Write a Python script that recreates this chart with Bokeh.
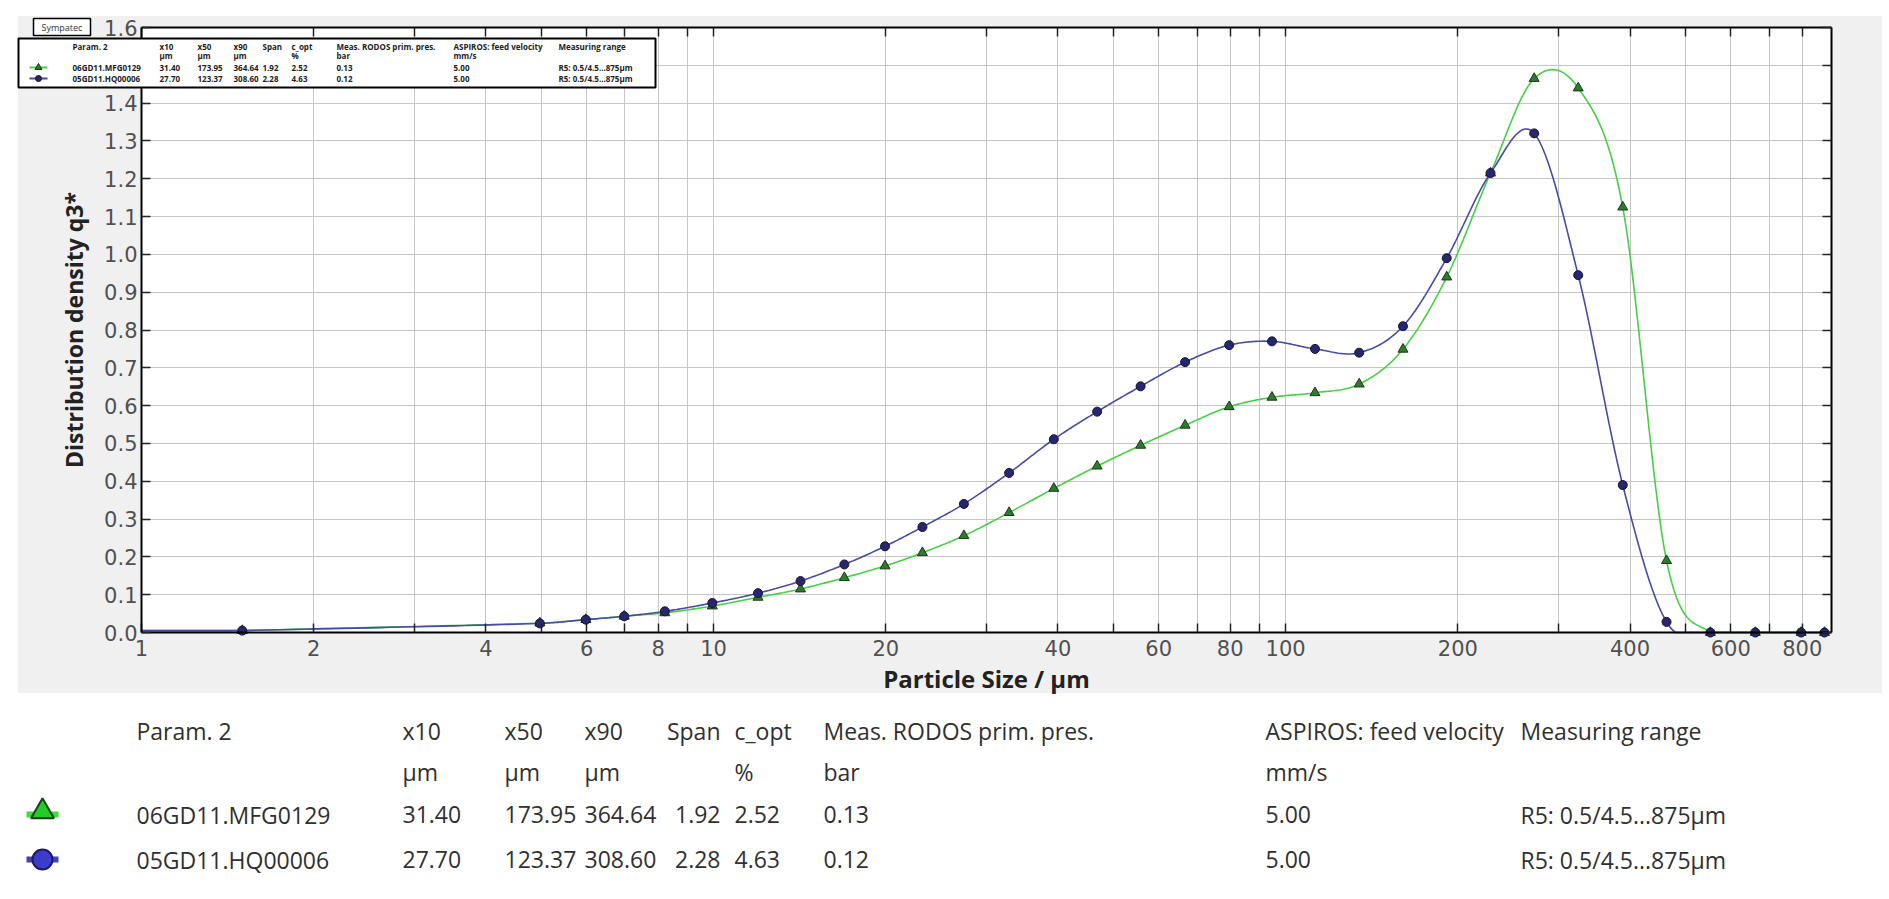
import numpy as np
from bokeh.plotting import figure
from bokeh.models import (Range1d, FixedTicker, LogAxis, LinearAxis, Grid, LinearScale,
                          ColumnDataSource, PrintfTickFormatter)
from bokeh.embed import file_html
from bokeh.resources import INLINE
from bokeh.core.properties import value

# ---------------- data ----------------
particle_size_um = [1.5, 4.97, 5.98, 6.98, 8.22, 9.95, 11.96, 14.19, 16.93, 19.94, 23.18, 27.39,
                    32.86, 39.34, 46.83, 55.78, 66.73, 79.69, 94.66, 112.56, 134.46, 160.39,
                    191.25, 228.12, 271.94, 324.71, 388.43, 463.28, 552.74, 662.29, 796.48, 875.0]
q3_mfg0129 = [0.005, 0.025, 0.034, 0.043, 0.052, 0.070, 0.093, 0.115, 0.145, 0.176, 0.211, 0.256,
              0.317, 0.381, 0.440, 0.495, 0.548, 0.597, 0.622, 0.634, 0.657, 0.749,
              0.940, 1.215, 1.465, 1.440, 1.125, 0.190, 0.0, 0.0, 0.0, 0.0]
q3_hq00006 = [0.005, 0.024, 0.034, 0.043, 0.056, 0.078, 0.104, 0.136, 0.180, 0.228, 0.279, 0.340,
              0.422, 0.511, 0.584, 0.651, 0.715, 0.760, 0.770, 0.750, 0.740, 0.810,
              0.990, 1.215, 1.320, 0.945, 0.390, 0.028, 0.0, 0.0, 0.0, 0.0]

sample_names = ["06GD11.MFG0129", "05GD11.HQ00006"]
x10_um = [31.40, 27.70]
x50_um = [173.95, 123.37]
x90_um = [364.64, 308.60]
span_vals = [1.92, 2.28]
c_opt_pct = [2.52, 4.63]
rodos_bar = [0.13, 0.12]
aspiros_mms = [5.00, 5.00]
measuring_range = ["R5: 0.5/4.5...875µm", "R5: 0.5/4.5...875µm"]
table_headers = ["Param. 2", "x10", "x50", "x90", "Span", "c_opt",
                 "Meas. RODOS prim. pres.", "ASPIROS: feed velocity", "Measuring range"]
table_units = ["", "µm", "µm", "µm", "", "%", "bar", "mm/s", ""]

x_tick_values = [1, 2, 3, 4, 5, 6, 7, 8, 9, 10, 20, 30, 40, 50, 60, 70, 80, 90,
                 100, 200, 300, 400, 500, 600, 700, 800]
x_tick_labels = ["1", "2", "", "4", "", "6", "", "8", "", "10", "20", "", "40", "", "60", "", "80", "",
                 "100", "200", "", "400", "", "600", "", "800"]
y_tick_values = [0.0, 0.1, 0.2, 0.3, 0.4, 0.5, 0.6, 0.7, 0.8, 0.9, 1.0, 1.1, 1.2, 1.3, 1.4, 1.5, 1.6]

X_MIN, X_MAX = 1, 900
Y_MIN, Y_MAX = 0.0, 1.6

# ---------------- layout (page pixels) ----------------
FIG_L, FIG_T, FIG_W, FIG_H = 0, 0, 1888, 898
FIG_R, FIG_B = FIG_L + FIG_W, FIG_T + FIG_H
PLOT_L, PLOT_R, PLOT_T, PLOT_B = 141, 1831, 27, 632          # plotting area
PANEL_L, PANEL_R, PANEL_T, PANEL_B = 17, 1882, 15, 693      # grey chart panel

# ---------------- styles ----------------
GREEN_LINE, GREEN_MARK, GREEN_EDGE = "#46cf46", "#2f7a2f", "#163816"
BLUE_LINE, BLUE_MARK, BLUE_EDGE = "#4a4aa6", "#27276b", "#12123a"
BG_GRAY = "#f0f0f0"
TICK_FONT = "DejaVu Sans"
TEXT_FONT = "Open Sans"


def smooth_curve(xs, ys, n=24):
    """Cubic Hermite curve through the measured points (in log-x space), for the connecting line."""
    u = np.log10(np.asarray(xs, float))
    y = np.asarray(ys, float)
    m = np.empty_like(y)
    m[1:-1] = (y[2:] - y[:-2]) / (u[2:] - u[:-2])
    m[0] = (y[1] - y[0]) / (u[1] - u[0])
    m[-1] = (y[-1] - y[-2]) / (u[-1] - u[-2])
    U, Y = [[np.log10(X_MIN)]], [[y[0]]]
    t = np.linspace(0, 1, n, endpoint=False)
    h00 = 2 * t**3 - 3 * t**2 + 1
    h10 = t**3 - 2 * t**2 + t
    h01 = -2 * t**3 + 3 * t**2
    h11 = t**3 - t**2
    for i in range(len(u) - 1):
        h = u[i + 1] - u[i]
        U.append(u[i] + t * h)
        Y.append(h00 * y[i] + h10 * h * m[i] + h01 * y[i + 1] + h11 * h * m[i + 1])
    U.append([u[-1]])
    Y.append([y[-1]])
    return 10 ** np.concatenate(U), np.clip(np.concatenate(Y), 0, None)


def table_cells(i):
    return [sample_names[i], f"{x10_um[i]:.2f}", f"{x50_um[i]:.2f}", f"{x90_um[i]:.2f}",
            f"{span_vals[i]:.2f}", f"{c_opt_pct[i]:.2f}", f"{rodos_bar[i]:.2f}",
            f"{aspiros_mms[i]:.2f}", measuring_range[i]]


rows = [table_headers, table_units, table_cells(0), table_cells(1)]

# ranges: the frame is the whole figure; the data area is placed at PLOT_* by extending the ranges
kx = (PLOT_R - PLOT_L) / (np.log10(X_MAX) - np.log10(X_MIN))
ky = (PLOT_B - PLOT_T) / (Y_MAX - Y_MIN)
x_range = Range1d(10 ** (np.log10(X_MIN) - (PLOT_L - FIG_L) / kx),
                  10 ** (np.log10(X_MAX) + (FIG_R - PLOT_R) / kx))
y_range = Range1d(Y_MIN - (FIG_B - PLOT_B) / ky, Y_MAX + (PLOT_T - FIG_T) / ky)

p = figure(width=FIG_W, height=FIG_H, x_axis_type="log", x_range=x_range, y_range=y_range,
           x_axis_location=None, y_axis_location=None,
           output_backend="svg", toolbar_location=None, min_border=0,
           background_fill_color="white", border_fill_color="white", outline_line_color=None)
p.grid.visible = False
p.extra_x_ranges = {"px": Range1d(FIG_L, FIG_R)}
p.extra_y_ranges = {"py": Range1d(FIG_B, FIG_T)}
p.extra_x_scales = {"px": LinearScale()}
p.extra_y_scales = {"py": LinearScale()}
PG = dict(x_range_name="px", y_range_name="py")

xt = FixedTicker(ticks=x_tick_values)
yt = FixedTicker(ticks=y_tick_values)
p.add_layout(Grid(dimension=0, ticker=xt, grid_line_color="#c6c6c6", grid_line_width=1))
p.add_layout(Grid(dimension=1, ticker=yt, grid_line_color="#c6c6c6", grid_line_width=1))

# grey panel around the plotting area, white page around the panel
grey = dict(left=[PANEL_L, PANEL_L, PANEL_L, PLOT_R],
            right=[PANEL_R, PANEL_R, PLOT_L, PANEL_R],
            top=[PANEL_T, PLOT_B, PLOT_T, PLOT_T],
            bottom=[PLOT_T, PANEL_B, PLOT_B, PLOT_B])
p.quad(source=ColumnDataSource(grey), left="left", right="right", top="top", bottom="bottom",
       fill_color=BG_GRAY, line_color=BG_GRAY, line_width=1, **PG)
white = dict(left=[FIG_L, FIG_L, FIG_L, PANEL_R], right=[PANEL_L, FIG_R, FIG_R, FIG_R],
             top=[FIG_T, FIG_T, PANEL_B, FIG_T], bottom=[FIG_B, PANEL_T, FIG_B, FIG_B])
p.quad(source=ColumnDataSource(white), left="left", right="right", top="top", bottom="bottom",
       fill_color="white", line_color="white", line_width=1, **PG)

# ---- data ----
gx, gy = smooth_curve(particle_size_um, q3_mfg0129)
bx, by = smooth_curve(particle_size_um, q3_hq00006)
p.line(gx, gy, line_color=GREEN_LINE, line_width=1.6)
p.line(bx, by, line_color=BLUE_LINE, line_width=1.6)
p.scatter(particle_size_um, q3_mfg0129, marker="triangle", size=10,
          fill_color=GREEN_MARK, line_color=GREEN_EDGE, line_width=1)
p.scatter(particle_size_um, q3_hq00006, marker="circle", size=9,
          fill_color=BLUE_MARK, line_color=BLUE_EDGE, line_width=1)


# ---- axes (fixed at the edges of the plotting area) ----
def style_axis(ax, labels=True):
    ax.axis_line_color = "black"
    ax.axis_line_width = 2
    ax.major_tick_in = 9
    ax.major_tick_out = 0
    ax.major_tick_line_color = "#222222"
    ax.major_tick_line_width = 1.5
    ax.minor_tick_line_color = None
    if labels:
        ax.major_label_text_font = TICK_FONT
        ax.major_label_text_font_size = "21px"
        ax.major_label_text_color = "#505050"
        ax.axis_label_text_font = TEXT_FONT
        ax.axis_label_text_font_style = "bold"
        ax.axis_label_text_color = "#222222"
    else:
        ax.major_label_text_font_size = "0px"
        ax.major_label_text_color = None


x_below = LogAxis(ticker=xt, fixed_location=Y_MIN, bounds=(X_MIN, X_MAX),
                  axis_label="Particle Size / µm",
                  major_label_overrides={v: s for v, s in zip(x_tick_values, x_tick_labels)},
                  major_label_standoff=7, axis_label_standoff=3)
style_axis(x_below)
x_below.axis_label_text_font_size = "24px"
y_left = LinearAxis(ticker=yt, fixed_location=X_MIN, bounds=(Y_MIN, Y_MAX),
                    formatter=PrintfTickFormatter(format="%.1f"),
                    axis_label="Distribution density q3*",
                    major_label_standoff=4, axis_label_standoff=11)
style_axis(y_left)
y_left.axis_label_text_font_size = "23px"
x_above = LogAxis(ticker=xt, fixed_location=Y_MAX, bounds=(X_MIN, X_MAX))
style_axis(x_above, labels=False)
y_right = LinearAxis(ticker=yt, fixed_location=X_MAX, bounds=(Y_MIN, Y_MAX))
style_axis(y_right, labels=False)
p.add_layout(x_below, "below")
p.add_layout(y_left, "left")
p.add_layout(x_above, "above")
p.add_layout(y_right, "right")

# ---- mini legend box in the chart (top-left), drawn above the axes ----
ANN = dict(level="annotation", **PG)
p.quad(left=[33], right=[90], top=[18], bottom=[35], fill_color="white",
       line_color="black", line_width=1.5, **ANN)
p.text(x=[61.5], y=[26.5], text=["Sympatec"], text_font=value(TEXT_FONT), text_font_size="9px",
       text_color="#333333", text_align="center", text_baseline="middle", **ANN)
p.quad(left=[18], right=[655], top=[38], bottom=[87], fill_color="white",
       line_color="black", line_width=2, **ANN)

MINI_COL_X = [72, 159, 197, 233, 262, 291, 336, 453, 558]
MINI_ROW_Y = [46, 55, 67, 78]
mini = dict(x=[], y=[], text=[])
for r, rw in enumerate(rows):
    for c, txt in enumerate(rw):
        if txt:
            mini["x"].append(MINI_COL_X[c])
            mini["y"].append(MINI_ROW_Y[r])
            mini["text"].append(txt)
p.text(x="x", y="y", text="text", source=ColumnDataSource(mini), text_font=value(TEXT_FONT),
       text_font_size="8px", text_font_style="bold", text_color="#222222",
       text_baseline="middle", **ANN)
MINI_ICON_X0, MINI_ICON_X1, MINI_ICON_XC = 29, 47, 38
p.segment(x0=[MINI_ICON_X0], y0=[MINI_ROW_Y[2]], x1=[MINI_ICON_X1], y1=[MINI_ROW_Y[2]],
          line_color=GREEN_LINE, line_width=2, **ANN)
p.scatter(x=[MINI_ICON_XC], y=[MINI_ROW_Y[2]], marker="triangle", size=7,
          fill_color=GREEN_MARK, line_color=GREEN_EDGE, **ANN)
p.segment(x0=[MINI_ICON_X0], y0=[MINI_ROW_Y[3]], x1=[MINI_ICON_X1], y1=[MINI_ROW_Y[3]],
          line_color=BLUE_LINE, line_width=2, **ANN)
p.scatter(x=[MINI_ICON_XC], y=[MINI_ROW_Y[3]], marker="circle", size=6,
          fill_color=BLUE_MARK, line_color=BLUE_EDGE, **ANN)

# ---- parameter table below the chart ----
TBL_COL_X = [136, 402, 504, 584, 720, 734, 823, 1265, 1520]
TBL_COL_ALIGN = ["left", "left", "left", "left", "right", "left", "left", "left", "left"]
TBL_ROW_Y = [730, 771, 814, 859]
for align in ("left", "right"):
    d = dict(x=[], y=[], text=[])
    for r, rw in enumerate(rows):
        for c, txt in enumerate(rw):
            if txt and TBL_COL_ALIGN[c] == align:
                d["x"].append(TBL_COL_X[c])
                d["y"].append(TBL_ROW_Y[r])
                d["text"].append(txt)
    p.text(x="x", y="y", text="text", source=ColumnDataSource(d),
           text_font=value(TEXT_FONT), text_font_size="23px", text_color="#303030",
           text_align=align, text_baseline="middle", **PG)

ICON_X0, ICON_X1, ICON_XC = 26, 58, 42
p.segment(x0=[ICON_X0], y0=[TBL_ROW_Y[2]], x1=[ICON_X1], y1=[TBL_ROW_Y[2]],
          line_color="#3fdc3f", line_width=6, **PG)
p.scatter(x=[ICON_XC], y=[TBL_ROW_Y[2] - 3], marker="triangle", size=23,
          fill_color="#22cc22", line_color="#174017", line_width=2, **PG)
p.segment(x0=[ICON_X0], y0=[TBL_ROW_Y[3]], x1=[ICON_X1], y1=[TBL_ROW_Y[3]],
          line_color="#4444aa", line_width=6, **PG)
p.scatter(x=[ICON_XC], y=[TBL_ROW_Y[3]], marker="circle", size=20,
          fill_color="#3c3ccc", line_color="#1c1c5c", line_width=2, **PG)

open("out.html", "w").write(file_html(p, INLINE))
